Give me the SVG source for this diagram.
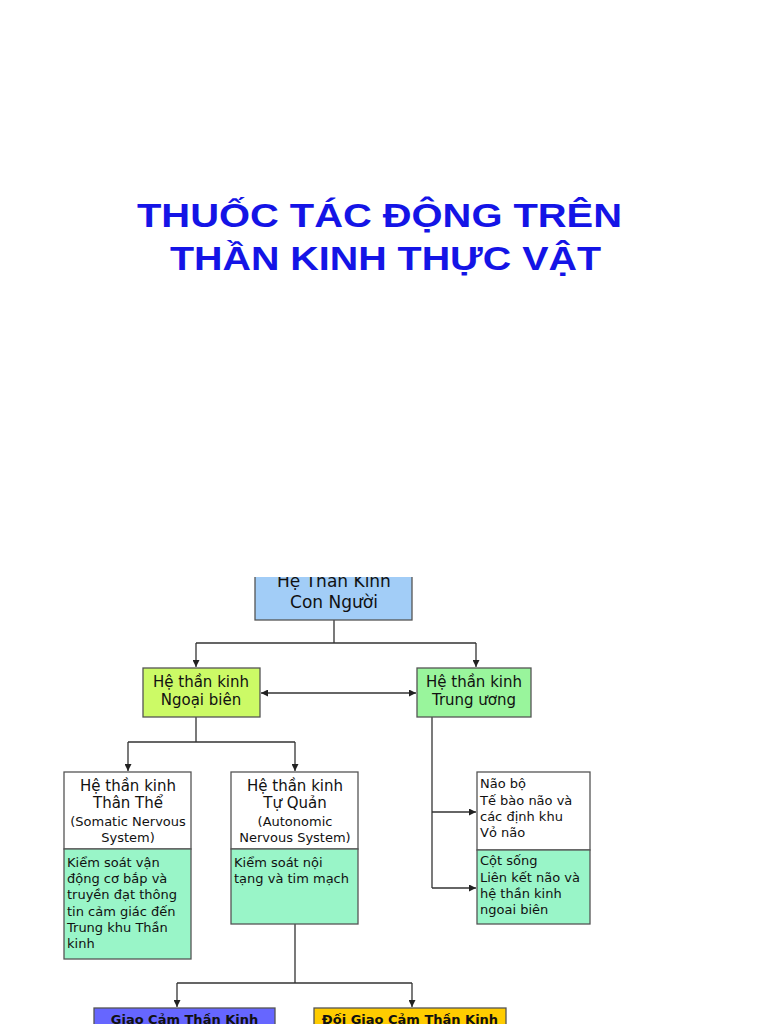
<svg xmlns="http://www.w3.org/2000/svg" width="768" height="1024" viewBox="0 0 768 1024">
<style>
.title{font-family:"Liberation Sans",Arial,sans-serif;font-weight:bold;font-size:34px;fill:#1414e6}
.box{stroke:#555;stroke-width:1.3}
.t{font-family:"DejaVu Sans",Verdana,sans-serif;fill:#111}
.h17{font-size:17px;text-anchor:middle}
.h15{font-size:15px;text-anchor:middle}
.h13c{font-size:13px;text-anchor:middle}
.d13{font-size:13px}
.b13{font-size:13px;font-weight:bold;text-anchor:middle}
.con{fill:none;stroke:#333;stroke-width:1.3}
</style>
<defs>
<marker id="ah" markerUnits="userSpaceOnUse" markerWidth="8" markerHeight="7" refX="7" refY="3.5" orient="auto-start-reverse">
<path d="M0,0 L7,3.5 L0,7 z" fill="#222"/>
</marker>
<clipPath id="clipTop"><rect x="0" y="577" width="768" height="447"/></clipPath>
</defs>
<rect width="768" height="1024" fill="#fff"/>
<g id="title">
<text class="title" x="137" y="227" textLength="485" lengthAdjust="spacingAndGlyphs">THUỐC TÁC ĐỘNG TRÊN</text>
<text class="title" x="170" y="270" textLength="431" lengthAdjust="spacingAndGlyphs">THẦN KINH THỰC VẬT</text>
</g>
<g id="connectors">
<path class="con" d="M334,620 V643 M196,643 H476"/>
<path class="con" d="M196,643 V667" marker-end="url(#ah)"/>
<path class="con" d="M476,643 V667" marker-end="url(#ah)"/>
<path class="con" d="M261,693 H416" marker-start="url(#ah)" marker-end="url(#ah)"/>
<path class="con" d="M196,717 V742 M128,742 H295"/>
<path class="con" d="M128,742 V771" marker-end="url(#ah)"/>
<path class="con" d="M295,742 V771" marker-end="url(#ah)"/>
<path class="con" d="M432,717 V888"/>
<path class="con" d="M432,812 H476" marker-end="url(#ah)"/>
<path class="con" d="M432,888 H476" marker-end="url(#ah)"/>
<path class="con" d="M295,924 V983 M177,983 H412"/>
<path class="con" d="M177,983 V1007" marker-end="url(#ah)"/>
<path class="con" d="M412,983 V1007" marker-end="url(#ah)"/>
</g>
<g id="node-con-nguoi" clip-path="url(#clipTop)">
<rect class="box" x="255" y="565" width="157" height="55" fill="#a2cdf7"/>
<text class="t h17" x="334" y="587">Hệ Thần Kinh</text>
<text class="t h17" x="334" y="608">Con Người</text>
</g>
<g id="node-ngoai-bien">
<rect class="box" x="143" y="668" width="117" height="49" fill="#ccfa66"/>
<text class="t h15" x="201" y="687">Hệ thần kinh</text>
<text class="t h15" x="201" y="705">Ngoại biên</text>
</g>
<g id="node-trung-uong">
<rect class="box" x="417" y="668" width="114" height="49" fill="#99f59c"/>
<text class="t h15" x="474" y="687">Hệ thần kinh</text>
<text class="t h15" x="474" y="705">Trung ương</text>
</g>
<g id="node-than-the">
<rect class="box" x="64" y="772" width="127" height="77" fill="#fff"/>
<rect class="box" x="64" y="849" width="127" height="110" fill="#99f5c8"/>
<text class="t h15" x="128" y="791">Hệ thần kinh</text>
<text class="t h15" x="128" y="808">Thân Thể</text>
<text class="t h13c" x="128" y="826">(Somatic Nervous</text>
<text class="t h13c" x="128" y="842">System)</text>
<text class="t d13" x="67" y="867">Kiểm soát vận</text>
<text class="t d13" x="67" y="883">động cơ bắp và</text>
<text class="t d13" x="67" y="899">truyền đạt thông</text>
<text class="t d13" x="67" y="916">tin cảm giác đến</text>
<text class="t d13" x="67" y="932">Trung khu Thần</text>
<text class="t d13" x="67" y="948">kinh</text>
</g>
<g id="node-tu-quan">
<rect class="box" x="231" y="772" width="127" height="77" fill="#fff"/>
<rect class="box" x="231" y="849" width="127" height="75" fill="#99f5c8"/>
<text class="t h15" x="295" y="791">Hệ thần kinh</text>
<text class="t h15" x="295" y="808">Tự Quản</text>
<text class="t h13c" x="295" y="826">(Autonomic</text>
<text class="t h13c" x="295" y="842">Nervous System)</text>
<text class="t d13" x="234" y="867">Kiểm soát nội</text>
<text class="t d13" x="234" y="883">tạng và tim mạch</text>
</g>
<g id="node-trung-uong-detail">
<rect class="box" x="477" y="772" width="113" height="78" fill="#fff"/>
<rect class="box" x="477" y="850" width="113" height="74" fill="#99f5c8"/>
<text class="t d13" x="480" y="788">Não bộ</text>
<text class="t d13" x="480" y="805">Tế bào não và</text>
<text class="t d13" x="480" y="821">các định khu</text>
<text class="t d13" x="480" y="837">Vỏ não</text>
<text class="t d13" x="480" y="865">Cột sống</text>
<text class="t d13" x="480" y="882">Liên kết não và</text>
<text class="t d13" x="480" y="898">hệ thần kinh</text>
<text class="t d13" x="480" y="914">ngoai biên</text>
</g>
<g id="node-giao-cam">
<rect class="box" x="94" y="1008" width="181" height="30" fill="#6666ff"/>
<text class="t b13" x="184.5" y="1024">Giao Cảm Thần Kinh</text>
</g>
<g id="node-doi-giao-cam">
<rect class="box" x="314" y="1008" width="192" height="30" fill="#ffcc00"/>
<text class="t b13" x="410" y="1024">Đối Giao Cảm Thần Kinh</text>
</g>
</svg>
